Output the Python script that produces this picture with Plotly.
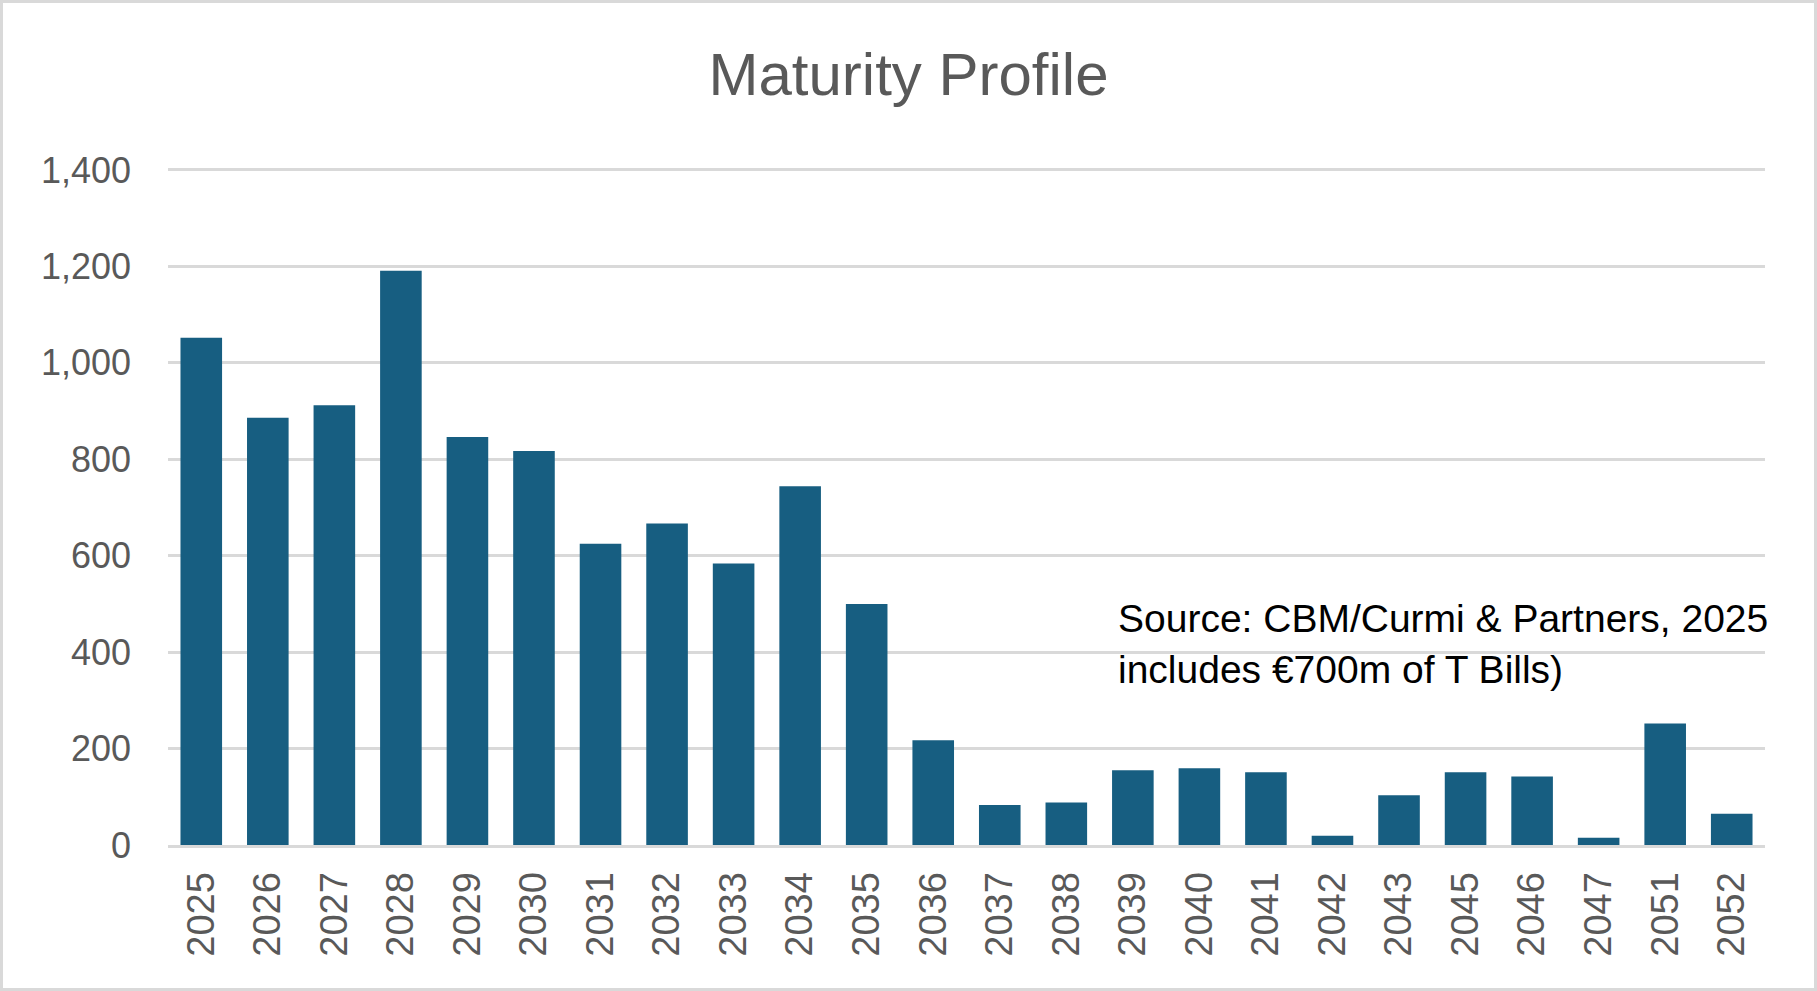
import plotly.graph_objects as go

years = ["2025", "2026", "2027", "2028", "2029", "2030", "2031", "2032", "2033",
         "2034", "2035", "2036", "2037", "2038", "2039", "2040", "2041", "2042",
         "2043", "2045", "2046", "2047", "2051", "2052"]
values = [1052, 886, 912, 1191, 846, 817, 625, 667, 584,
          744, 500, 217, 83, 88, 155, 159, 151, 19,
          103, 151, 142, 15, 252, 65]
y_ticks = [0, 200, 400, 600, 800, 1000, 1200, 1400]

W, H = 1817, 991
L, R, T, B = 168, 52, 168, 146
pw, ph = W - L - R, H - T - B

def px_x(p):
    return (p - L) / pw

def px_y(p):
    return (H - B - p) / ph

fig = go.Figure(go.Bar(x=years, y=values, marker=dict(color="#175E81", line=dict(width=0))))

fig.update_layout(
    width=W, height=H,
    margin=dict(l=L, r=R, t=T, b=B),
    paper_bgcolor="white", plot_bgcolor="white",
    bargap=0.375,
    showlegend=False,
    font=dict(family="Liberation Sans, Arial, sans-serif", color="#595959"),
    title=dict(text="Maturity Profile", x=0.5, xanchor="center", xref="container",
               y=1 - 74 / H, yanchor="middle", yref="container",
               font=dict(size=60, color="#595959")),
    xaxis=dict(type="category", showgrid=False, showline=True, linecolor="#D9D9D9",
               linewidth=3, tickangle=-90, tickfont=dict(size=38, color="#595959"),
               ticks="", ticklabelstandoff=9),
    yaxis=dict(range=[0, 1404], tickvals=y_ticks, tickformat=",", showgrid=True,
               gridcolor="#D9D9D9", gridwidth=2.5, zeroline=False, showline=False,
               tickfont=dict(size=36, color="#595959"), ticks="", ticklabelstandoff=36),
    annotations=[dict(text="Source: CBM/Curmi & Partners, 2025<br>includes €700m of T Bills)",
                      xref="paper", yref="paper", x=px_x(1116), y=px_y(595),
                      xanchor="left", yanchor="top", align="left", showarrow=False,
                      font=dict(size=39, color="#000000"))],
    shapes=[dict(type="rect", xref="paper", yref="paper",
                 x0=px_x(1.5), x1=px_x(W - 1.5), y0=px_y(H - 1.5), y1=px_y(1.5),
                 line=dict(color="#D9D9D9", width=3), fillcolor="rgba(0,0,0,0)",
                 layer="below")],
)

fig.write_html("out.html")
